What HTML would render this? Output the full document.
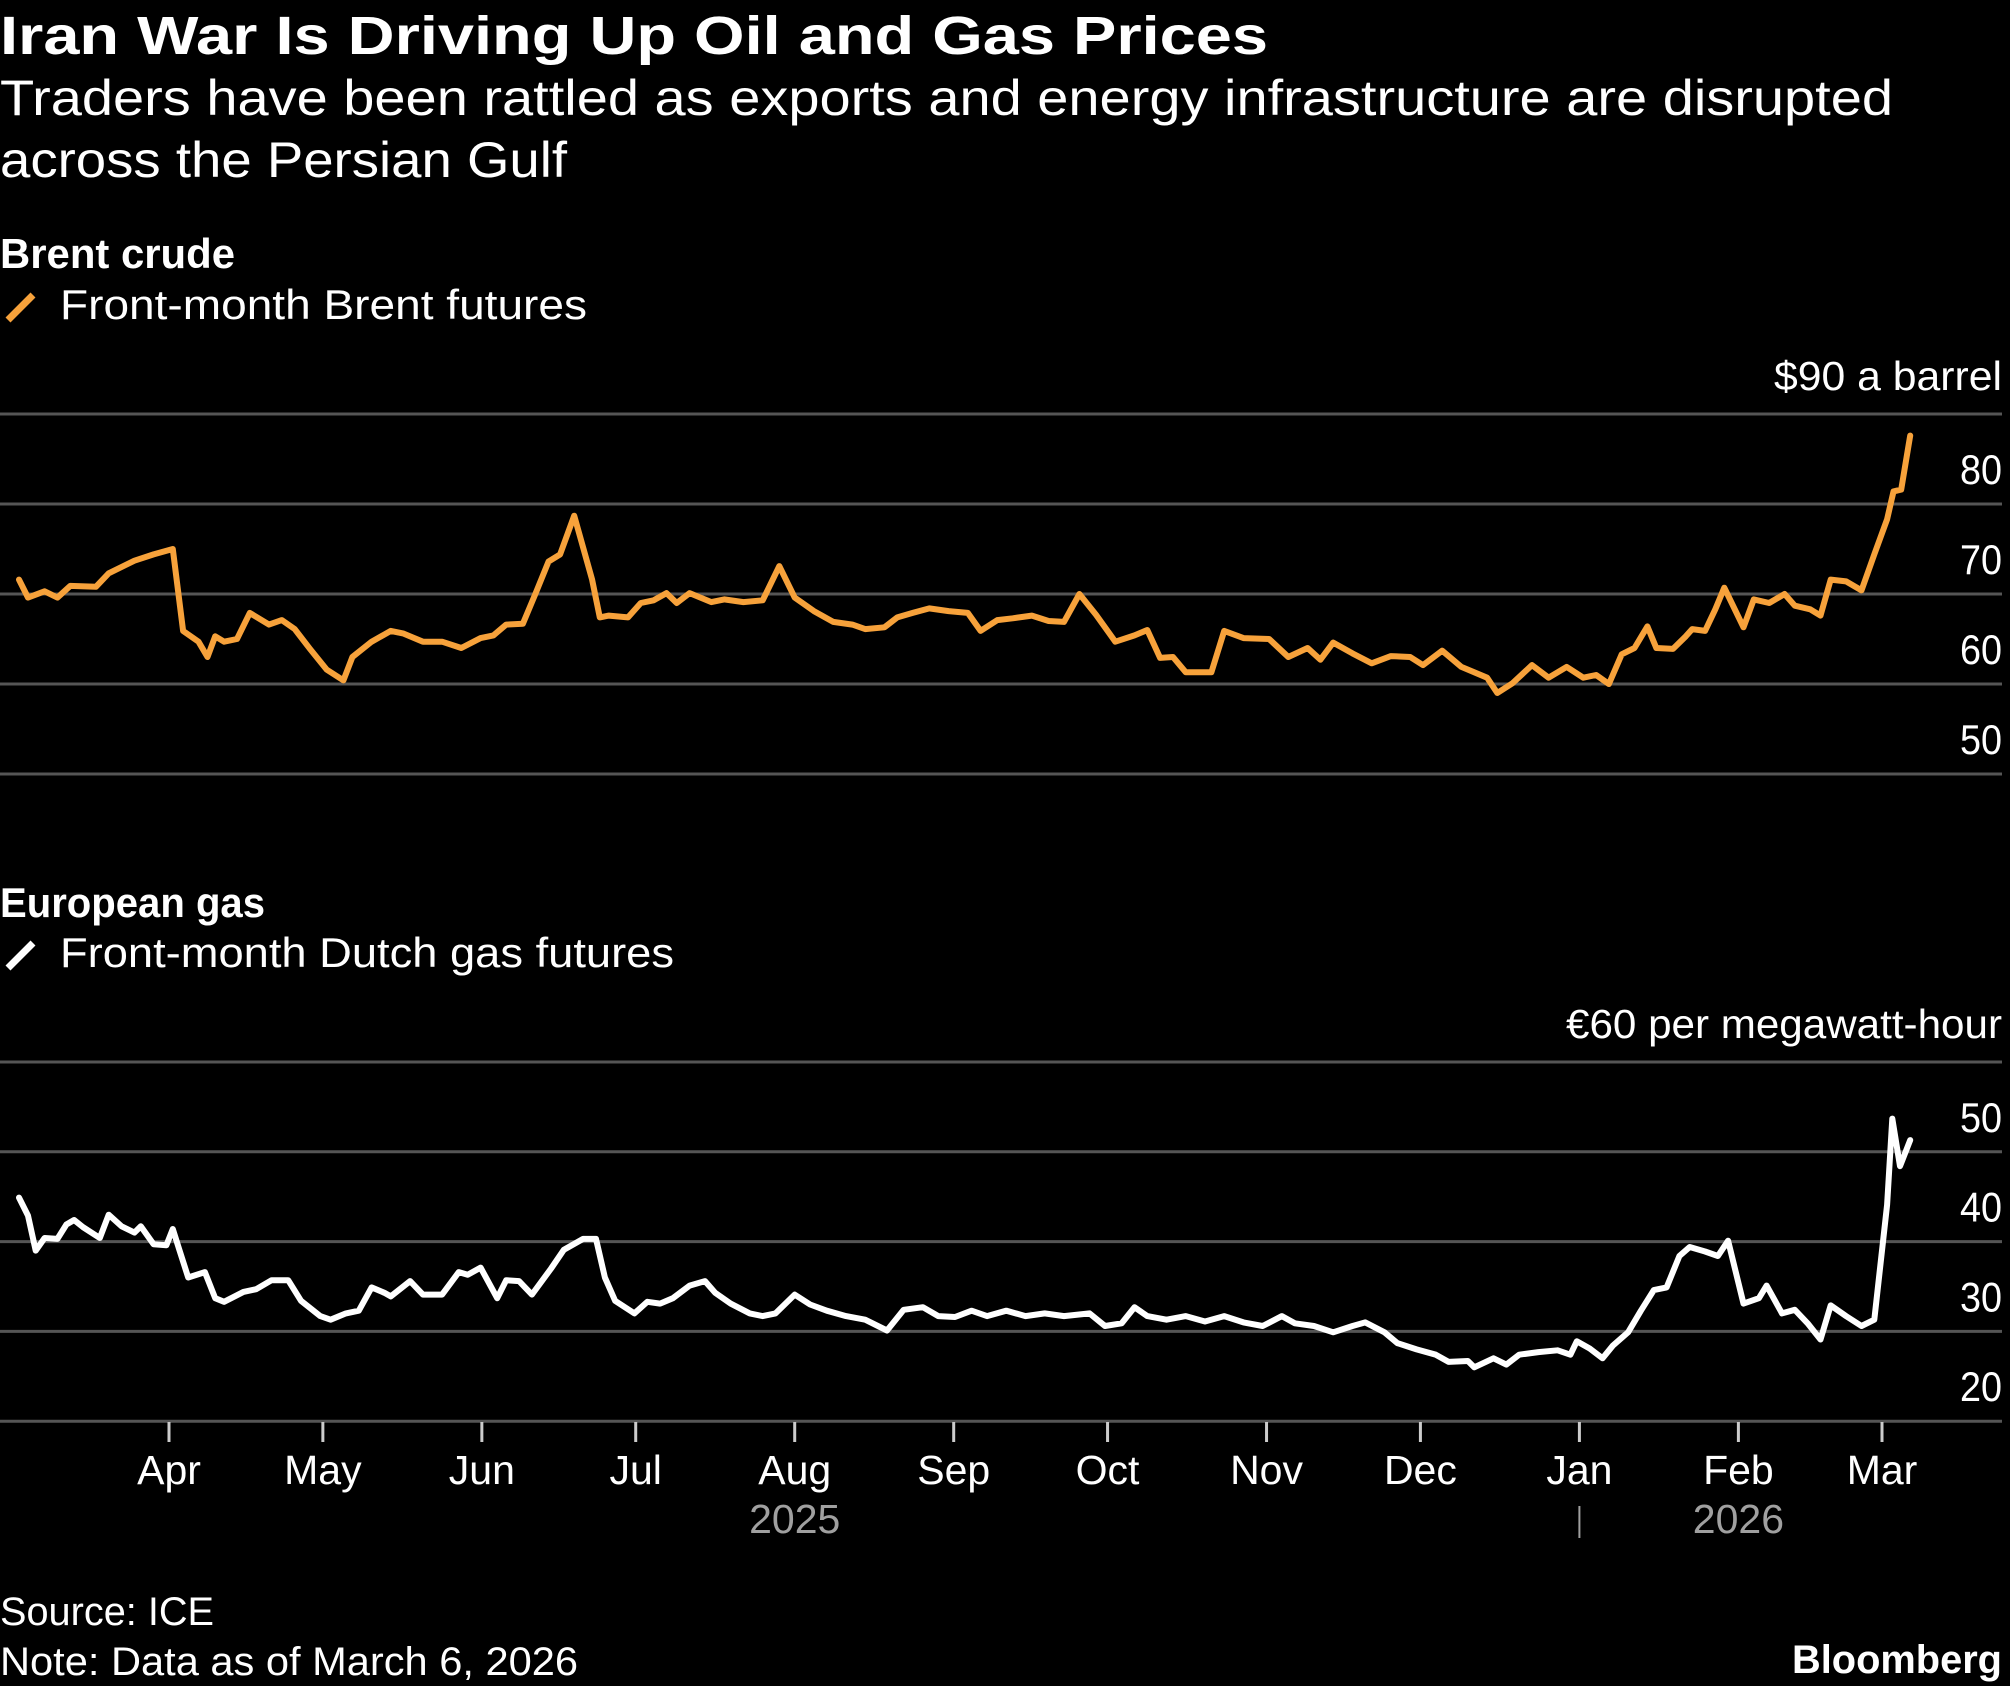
<!DOCTYPE html>
<html><head><meta charset="utf-8"><style>
html,body{margin:0;padding:0;background:#000;}
svg{display:block;}
text{font-family:"Liberation Sans",sans-serif;fill:#fff;}
</style></head><body>
<svg id="chart" width="2010" height="1686" viewBox="0 0 2010 1686">
<rect x="0" y="0" width="2010" height="1686" fill="#000"/>
<text x="0" y="54" font-size="54" font-weight="bold" textLength="1268" lengthAdjust="spacingAndGlyphs">Iran War Is Driving Up Oil and Gas Prices</text>
<text x="0" y="115" font-size="50" textLength="1893" lengthAdjust="spacingAndGlyphs">Traders have been rattled as exports and energy infrastructure are disrupted</text>
<text x="0" y="177" font-size="50" textLength="567" lengthAdjust="spacingAndGlyphs">across the Persian Gulf</text>

<text x="0" y="268" font-size="42" font-weight="bold" textLength="235" lengthAdjust="spacingAndGlyphs">Brent crude</text>
<line x1="8" y1="320" x2="33" y2="295" stroke="#f7a23b" stroke-width="7"/>
<text x="60" y="319" font-size="42" textLength="527" lengthAdjust="spacingAndGlyphs">Front-month Brent futures</text>
<text x="2002" y="390" font-size="41" text-anchor="end" textLength="228" lengthAdjust="spacingAndGlyphs">$90 a barrel</text>

<text x="0" y="917" font-size="42" font-weight="bold" textLength="265" lengthAdjust="spacingAndGlyphs">European gas</text>
<line x1="8" y1="968" x2="33" y2="943" stroke="#fff" stroke-width="7"/>
<text x="60" y="967" font-size="42" textLength="614" lengthAdjust="spacingAndGlyphs">Front-month Dutch gas futures</text>
<text x="2002" y="1038" font-size="41" text-anchor="end" textLength="436" lengthAdjust="spacingAndGlyphs">€60 per megawatt-hour</text>

<g id="brentGrid"></g><g id="gasGrid"></g><g id="xAxis"></g>
<g id="series"></g>

<text x="0" y="1625" font-size="40" textLength="214" lengthAdjust="spacingAndGlyphs">Source: ICE</text>
<text x="0" y="1675" font-size="40" textLength="578" lengthAdjust="spacingAndGlyphs">Note: Data as of March 6, 2026</text>
<text x="2002" y="1673" font-size="40" font-weight="bold" text-anchor="end" textLength="210" lengthAdjust="spacingAndGlyphs">Bloomberg</text>
</svg>
<script>
// days since 2025-03-01
const brentDays=[1.75,3.5,6.75,9.25,11.75,16.75,19.25,24.25,28,31.75,33.75,36.75,38.5,40,41.75,44.25,46.75,50.5,53,55.5,58.5,61.75,65,66.75,70.5,74.25,76.75,80.5,84.25,88,91.75,94.25,96.75,100,102.5,105,107.25,110,113.5,115,116.75,120.5,123,125.5,128,130,132.5,136.75,139.25,143,146.75,150,153,156.75,160.5,164.25,166.75,170.5,173,176,179.25,183,186.75,189.25,192.5,195.5,199.25,202.5,205.5,208.5,211.75,215.5,219.25,221.75,224.25,226.75,229.25,234.25,236.75,240.5,245.5,249.25,253,255.5,258,261.75,265.5,269.25,273,275.5,279.25,283,288,290,293,296.75,300,303.5,306.75,309.25,311.75,314.25,316.75,319.25,321,324.25,326.75,328,330.5,332.5,334.25,338,340,343,346,348,351,353,355,358,361,363.5,366,367.25,368.75,370.5];
const brentVals=[71.6,69.6,70.3,69.6,70.9,70.8,72.3,73.7,74.4,75,65.9,64.7,63,65.3,64.7,65,67.9,66.6,67.1,66.1,63.9,61.6,60.4,63,64.7,65.9,65.6,64.7,64.7,64,65.1,65.4,66.6,66.7,70.1,73.6,74.4,78.7,71.6,67.4,67.6,67.4,69,69.3,70.1,69,70.1,69.1,69.4,69.1,69.3,73.1,69.6,68.1,66.9,66.6,66.1,66.3,67.4,67.9,68.4,68.1,67.9,65.9,67.1,67.3,67.6,67,66.9,70,67.7,64.7,65.4,66,62.9,63,61.3,61.3,65.9,65.1,65,63,64,62.7,64.6,63.4,62.3,63.1,63,62.1,63.7,61.9,60.7,59,60.1,62.1,60.7,61.9,60.7,61,60,63.3,64,66.4,64,63.9,65.3,66.1,65.9,68.3,70.7,66.3,69.4,69,70,68.7,68.3,67.6,71.6,71.4,70.4,74.4,78.3,81.4,81.6,87.6];
const gasDays=[1.75,3.5,5,6.75,9.25,11,12.5,14.25,17.5,19.25,21.75,24.25,25.5,28,30.5,31.75,33,34.75,38,40,41.75,45.5,48,51,54.25,56.75,60.5,62.5,65.5,68,70.5,73,74.25,78,80.5,84.25,87.5,89.25,91.75,95,96.75,99.25,101.75,105.5,108,111.75,114.25,116,118,121.75,124.25,126.75,129.25,132.5,135.5,137.5,140.5,144.25,146.75,149.25,153,156,159.25,163,166.75,171,174.25,178,181,184.25,187.5,190.5,194.25,198,201.75,205.5,210.5,213.5,216.75,219.25,221.75,225.5,229.25,233,236.75,240.5,244.25,248,250.5,254.25,258,261.75,264.25,268,270.5,274.25,278,280.5,284.25,285.5,289.25,291.75,294.25,298,301.75,304.25,305.5,308,310.5,312.5,315.5,318,320.5,323,325.5,327.5,330.5,333,335,338,341,342.5,345.5,348,350.5,353,355,358,361,363.5,366,367,368.5,370.5];
const gasVals=[44.9,42.9,39,40.4,40.3,41.9,42.4,41.6,40.4,43,41.7,41,41.7,39.7,39.6,41.4,39.1,36,36.6,33.7,33.3,34.4,34.7,35.7,35.7,33.4,31.7,31.3,32,32.3,34.9,34.3,33.9,35.6,34.1,34.1,36.6,36.3,37.1,33.7,35.7,35.6,34.1,37,39.1,40.3,40.3,36,33.4,32,33.3,33.1,33.7,35.1,35.6,34.3,33.1,32,31.7,32,34.1,33,32.3,31.7,31.3,30.1,32.4,32.7,31.7,31.6,32.3,31.7,32.3,31.7,32,31.7,32,30.6,30.9,32.7,31.7,31.3,31.7,31.1,31.7,31,30.6,31.7,30.9,30.6,29.9,30.6,31,29.9,28.7,28,27.4,26.6,26.7,26,27,26.3,27.4,27.7,27.9,27.4,28.9,28.1,27,28.4,29.9,32.3,34.6,34.9,38.4,39.4,38.9,38.4,40.1,33.1,33.7,35.1,32,32.4,30.9,29.1,32.9,31.7,30.6,31.3,44.1,53.7,48.4,51.3];
const brentTicks=[90,80,70,60,50];
const gasTicks=[60,50,40,30,20];
const monthLabels=["Apr","May","Jun","Jul","Aug","Sep","Oct","Nov","Dec","Jan","Feb","Mar"];
const monthDays=[31,61,92,122,153,184,214,245,275,306,337,365];
const yearLabels=["2025","2026"];
const yearDays=[153,337];

const NS="http://www.w3.org/2000/svg";
const xScale=d=>169+(d-31)*(1882-169)/(365-31);
const yBrent=v=>414+(90-v)*9.0;
const yGas=v=>1062+(60-v)*8.98;
function mk(tag,attrs,parent){const e=document.createElementNS(NS,tag);for(const k in attrs)e.setAttribute(k,attrs[k]);document.getElementById(parent).appendChild(e);return e;}

brentTicks.forEach((t,i)=>{
  const y=yBrent(t);
  const l=mk('line',{x1:0,x2:2002,y1:y,y2:y,stroke:'#555','stroke-width':3},'brentGrid');
  
  
  if(i>0){const tx=mk('text',{x:2002,y:y-20,'font-size':42,'text-anchor':'end',textLength:42,lengthAdjust:'spacingAndGlyphs'},'brentGrid');tx.textContent=t;
  
  }
});
gasTicks.forEach((t,i)=>{
  const y=yGas(t);
  const l=mk('line',{x1:0,x2:2002,y1:y,y2:y,stroke:'#555','stroke-width':3},'gasGrid');
  
  
  if(i>0){const tx=mk('text',{x:2002,y:y-20,'font-size':42,'text-anchor':'end',textLength:42,lengthAdjust:'spacingAndGlyphs'},'gasGrid');tx.textContent=t;
  
  }
});
monthLabels.forEach((m,i)=>{
  const x=xScale(monthDays[i]);
  const tk=mk('line',{x1:x,x2:x,y1:1422,y2:1442,stroke:'#ccc','stroke-width':3},'xAxis');
  
  
  const tx=mk('text',{x:x,y:1484,'font-size':41,'text-anchor':'middle'},'xAxis');tx.textContent=m;
  
  
});
yearLabels.forEach((yl,i)=>{
  const tx=mk('text',{x:xScale(yearDays[i]),y:1533,'font-size':41,'text-anchor':'middle',style:'fill:#a0a0a0'},'xAxis');tx.textContent=yl;
  
  
});
const sep=mk('line',{x1:xScale(306),x2:xScale(306),y1:1506,y2:1538,stroke:'#a0a0a0','stroke-width':2},'xAxis');



const nb=Math.min(brentDays.length,brentVals.length);
const ng=Math.min(gasDays.length,gasVals.length);
const bpts=[];for(let i=0;i<nb;i++)bpts.push(xScale(brentDays[i]).toFixed(1)+','+yBrent(brentVals[i]).toFixed(1));
const gpts=[];for(let i=0;i<ng;i++)gpts.push(xScale(gasDays[i]).toFixed(1)+','+yGas(gasVals[i]).toFixed(1));
const bp=mk('polyline',{points:bpts.join(' '),fill:'none',stroke:'#f7a23b','stroke-width':6,'stroke-linejoin':'round','stroke-linecap':'round'},'series');


const gp=mk('polyline',{points:gpts.join(' '),fill:'none',stroke:'#fff','stroke-width':6,'stroke-linejoin':'round','stroke-linecap':'round'},'series');


</script>
</body></html>
